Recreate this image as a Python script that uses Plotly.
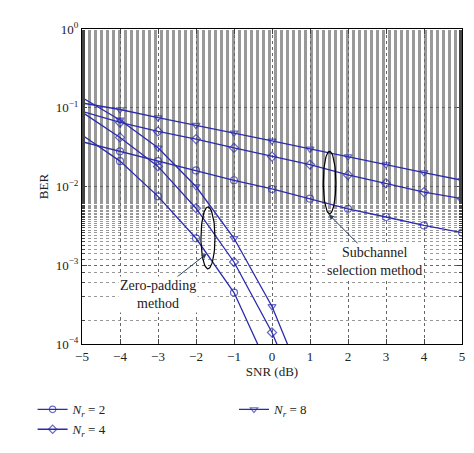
import numpy as np
import plotly.graph_objects as go

snr = [-5, -4, -3, -2, -1, 0, 1, 2, 3, 4, 5]
sc_nr2 = [0.037, 0.028, 0.021, 0.016, 0.012, 0.0093, 0.007, 0.0052, 0.0041, 0.0032, 0.0026]
sc_nr4 = [0.09, 0.065, 0.05, 0.04, 0.031, 0.024, 0.019, 0.014, 0.011, 0.0085, 0.007]
sc_nr8 = [0.115, 0.095, 0.075, 0.06, 0.048, 0.038, 0.03, 0.024, 0.019, 0.015, 0.012]

snr_zp = [-5, -4, -3, -2, -1, 0, 1]
zp_nr2 = [0.045, 0.021, 0.0075, 0.0022, 0.00045, 0.00004, 0.000002]
zp_nr4 = [0.088, 0.042, 0.018, 0.0053, 0.0011, 0.00014, 0.00001]
zp_nr8 = [0.135, 0.07, 0.031, 0.01, 0.0022, 0.0003, 0.00002]

BLUE = "#2b2bb0"
FONT = "Liberation Serif"

fig = go.Figure()


def sizes(xs, ys):
    return [7 if (x > -5 and y >= 1e-4) else 0 for x, y in zip(xs, ys)]


series = [
    ("<i>N<sub>r</sub></i> = 2", "circle-open", sc_nr2, zp_nr2, "legend"),
    ("<i>N<sub>r</sub></i> = 4", "diamond-open", sc_nr4, zp_nr4, "legend"),
    ("<i>N<sub>r</sub></i> = 8", "triangle-down-open", sc_nr8, zp_nr8, "legend2"),
]
for name, sym, sc, zp, leg in series:
    fig.add_trace(go.Scatter(x=snr, y=sc, name=name, mode="lines+markers", legend=leg,
                             line=dict(color=BLUE, width=1.3),
                             marker=dict(symbol=sym, size=sizes(snr, sc), color=BLUE,
                                         line=dict(width=1.2, color=BLUE)),
                             legendgroup=name))
    fig.add_trace(go.Scatter(x=snr_zp, y=zp, name=name, mode="lines+markers", legend=leg,
                             line=dict(color=BLUE, width=1.3),
                             marker=dict(symbol=sym, size=sizes(snr_zp, zp), color=BLUE,
                                         line=dict(width=1.2, color=BLUE)),
                             legendgroup=name, showlegend=False))


def ellipse(x0, x1, y0, y1):
    t = np.linspace(0, 2 * np.pi, 80)
    cx, rx = (x0 + x1) / 2, (x1 - x0) / 2
    ly0, ly1 = np.log10(y0), np.log10(y1)
    cy, ry = (ly0 + ly1) / 2, (ly1 - ly0) / 2
    fig.add_trace(go.Scatter(x=cx + rx * np.cos(t), y=10 ** (cy + ry * np.sin(t)),
                             mode="lines", line=dict(color="black", width=1.2),
                             showlegend=False, hoverinfo="skip"))


ellipse(1.35, 1.68, 0.0045, 0.028)
ellipse(-1.87, -1.5, 0.0009, 0.0055)

fig.add_annotation(x=1.5, y=np.log10(0.0044), ax=2.3, ay=np.log10(0.0018),
                   axref="x", ayref="y", showarrow=True, arrowhead=2, arrowsize=1,
                   arrowwidth=1, text="")
fig.add_annotation(x=2.7, y=np.log10(0.0011), text="Subchannel<br>selection method",
                   showarrow=False, bgcolor="white", font=dict(family=FONT, size=14, color="#222"))
fig.add_annotation(x=-1.72, y=np.log10(0.0014), ax=-2.6, ay=np.log10(0.00065),
                   axref="x", ayref="y", showarrow=True, arrowhead=2, arrowsize=1,
                   arrowwidth=1, text="")
fig.add_annotation(x=-3.0, y=np.log10(0.00042), text="Zero-padding<br>method",
                   showarrow=False, bgcolor="white", font=dict(family=FONT, size=14, color="#222"))

axis = dict(showline=True, linecolor="black", linewidth=1, mirror="ticks", ticks="inside",
            showgrid=True, gridcolor="#666", griddash="dot", gridwidth=1,
            tickfont=dict(family=FONT, size=13, color="#222"), zeroline=False)
fig.update_xaxes(range=[-5, 5], dtick=1, title=dict(text="SNR (dB)", standoff=4,
                 font=dict(family=FONT, size=13, color="#222")), **axis)
fig.update_yaxes(type="log", range=[-4, 0], tickvals=[1e-4, 1e-3, 1e-2, 1e-1, 1],
                 ticktext=["10<sup>−4</sup>", "10<sup>−3</sup>", "10<sup>−2</sup>",
                           "10<sup>−1</sup>", "10<sup>0</sup>"],
                 minor=dict(ticks="inside", showgrid=True, gridcolor="#999", griddash="dot"),
                 title=dict(text="BER", standoff=4, font=dict(family=FONT, size=13, color="#222")),
                 **axis)

legfont = dict(family=FONT, size=13, color="#222")
fig.update_layout(width=474, height=453, margin=dict(l=74, r=20, t=16, b=117),
                  paper_bgcolor="white", plot_bgcolor="white", font=dict(family=FONT),
                  legend=dict(x=-0.13, y=-0.16, xanchor="left", yanchor="top",
                              tracegroupgap=0, font=legfont),
                  legend2=dict(x=0.4, y=-0.16, xanchor="left", yanchor="top", font=legfont))

fig.write_html("out.html")
